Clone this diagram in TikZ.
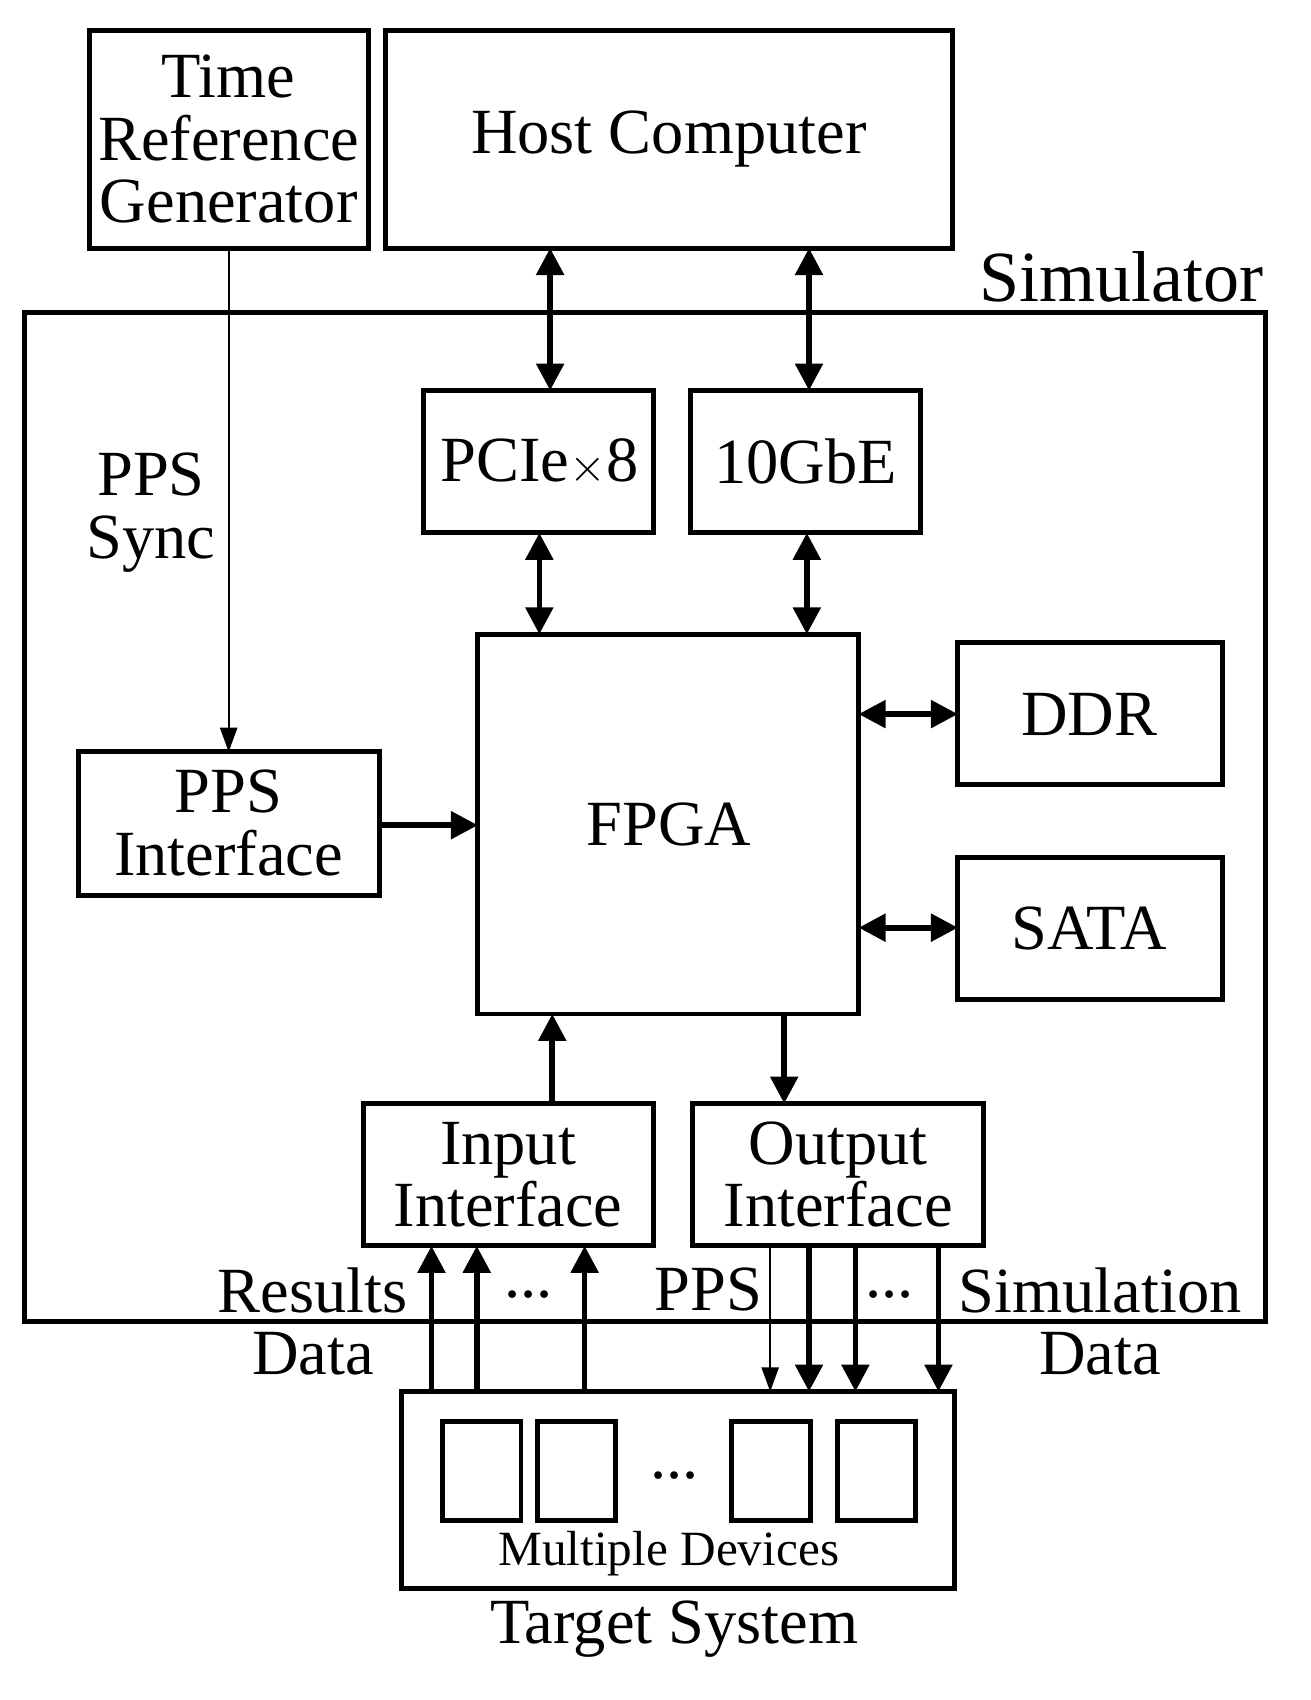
\documentclass[tikz,border=0pt]{standalone}
\usepackage{fontspec}
\setmainfont{Liberation Serif}
\usetikzlibrary{arrows.meta}
\begin{document}
\begin{tikzpicture}[x=0.02cm,y=-0.02cm,
 box/.style={draw,line width=2.6pt},
 big/.style={font=\fontsize{34}{33}\selectfont,align=center},
 thk/.style={line width=3pt,-{Triangle[length=0.5cm,width=0.5cm]}},
 dbl/.style={line width=3pt,{Triangle[length=0.5cm,width=0.5cm]}-{Triangle[length=0.5cm,width=0.5cm]}},
 thn/.style={line width=1pt,-{Triangle[length=0.45cm,width=0.32cm]}}]
\useasboundingbox (0,0) rectangle (1215,1576);
\draw[box] (83,28) rectangle (342,230);
\node[big] (tr) at (212,129) {Time\\Reference\\Generator};
\draw[box] (357,28) rectangle (883,230);
\node[big] (hc) at (620,129) {Host Computer};
\draw[box] (23,290) rectangle (1173,1225);
\node[big,font=\fontsize{38}{38}\selectfont] (sim) at (1040,257) {Simulator};
\draw[box] (393,362) rectangle (606,494); \node[big] (pcie) at (500,428) {PCIe$\times$8};
\draw[box] (640,362) rectangle (853,494); \node[big] (gbe) at (747,428) {10GbE};
\draw[box] (443,588) rectangle (796,940); \node[big] (fpga) at (620,764) {FPGA};
\draw[box] (888,596) rectangle (1133,727); \node[big] (ddr) at (1010,662) {DDR};
\draw[box] (888,795) rectangle (1133,927); \node[big] (sata) at (1010,861) {SATA};
\draw[box] (73,697) rectangle (352,830); \node[big] (ppsi) at (212,763) {PPS\\Interface};
\draw[box] (337,1023) rectangle (606,1155); \node[big] (ini) at (471,1089) {Input\\Interface};
\draw[box] (642,1023) rectangle (912,1155); \node[big] (outi) at (777,1089) {Output\\Interface};
\draw[box] (372,1290) rectangle (885,1473);
\foreach \a in {410,498,678,776} \draw[line width=2.6pt] (\a,1318) rectangle ++(73,92);
\node[big] (d2) at (625,1368) {...};
\node[font=\fontsize{26}{26}\selectfont] (md) at (620,1440) {Multiple Devices};
\node[big] (ts) at (625,1510) {Target System};
\node[big] (ppss) at (140,475) {PPS\\Sync};
\node[big] (rd) at (290,1225) {Results\\Data};
\node[big] (sd) at (1020,1225) {Simulation\\Data};
\node[big] (pps) at (657,1195) {PPS};
\node[big] (d1) at (490,1200) {...};
\node[big] (d3) at (825,1200) {...};
\coordinate (h1) at (510,230); \coordinate (p1) at (510,362);
\coordinate (h2) at (750,230); \coordinate (g1) at (750,362);
\draw[dbl] (h1) -- (p1); \draw[dbl] (h2) -- (g1);
\coordinate (p2) at (500,494); \coordinate (f1) at (500,588);
\coordinate (g2) at (748,494); \coordinate (f2) at (748,588);
\draw[dbl] (p2) -- (f1); \draw[dbl] (g2) -- (f2);
\coordinate (f3) at (796,662); \coordinate (dd) at (888,662);
\coordinate (f4) at (796,860); \coordinate (sa) at (888,860);
\draw[dbl] (f3) -- (dd); \draw[dbl] (f4) -- (sa);
\coordinate (t1) at (212,230); \coordinate (pp1) at (212,697);
\draw[thn] (t1) -- (pp1);
\coordinate (pp2) at (352,765); \coordinate (f5) at (443,765);
\draw[thk] (pp2) -- (f5);
\coordinate (i1) at (512,1023); \coordinate (f6) at (512,940);
\draw[thk] (i1) -- (f6);
\coordinate (f7) at (727,940); \coordinate (o1) at (727,1023);
\draw[thk] (f7) -- (o1);
\foreach \x in {400,442,542} \draw[thk] (\x,1290) -- (\x,1155);
\draw[thn] (714,1155) -- (714,1290);
\foreach \x in {750,793,870} \draw[thk] (\x,1155) -- (\x,1290);
\end{tikzpicture}
\end{document}
